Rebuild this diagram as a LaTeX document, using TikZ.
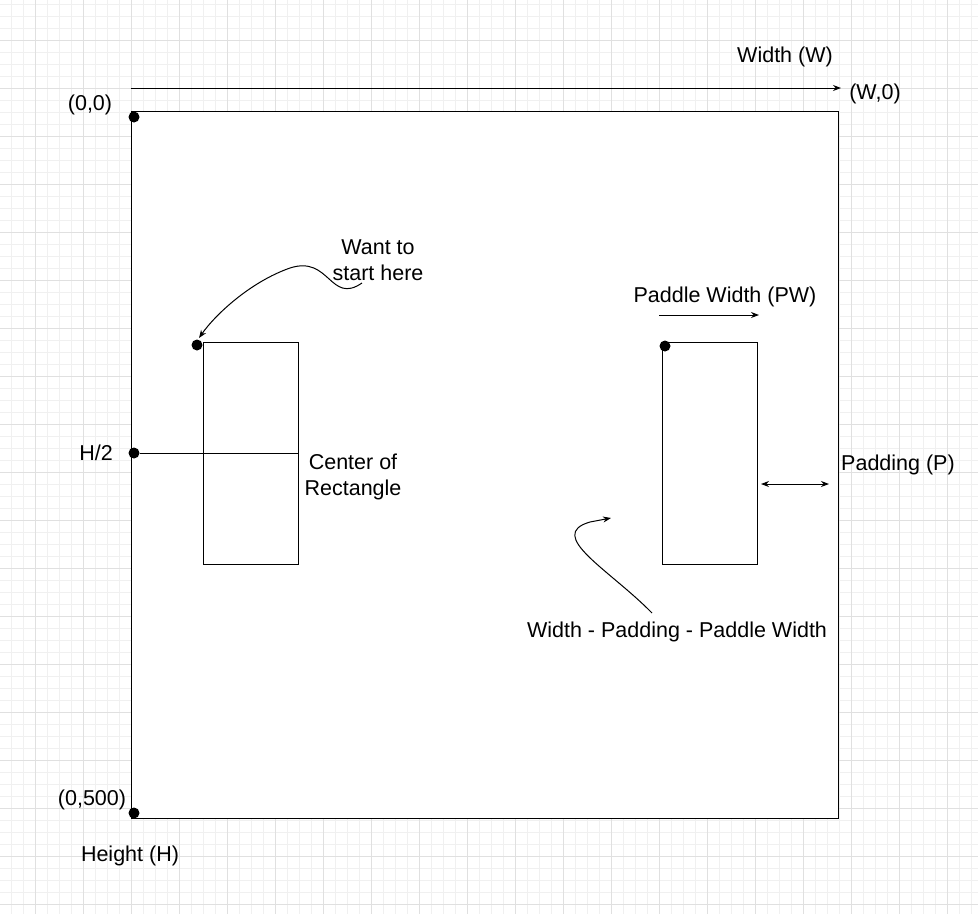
\documentclass[tikz,border=0pt]{standalone}
\usepackage{fontspec}
\setmainfont{Liberation Sans}
\usetikzlibrary{arrows.meta}
\begin{document}
\begin{tikzpicture}[x=1pt,y=-1pt,
  lbl/.style={font=\fontsize{21.5}{25.5}\selectfont,align=center,inner sep=0pt},
  dotn/.style={circle,fill=black,inner sep=0pt,minimum size=11pt},
  box/.style={draw,line width=1pt},
  arr/.style={-{Stealth[length=8pt,width=6pt]},line width=1pt}]
\useasboundingbox (0,0) rectangle (978,914);
\fill[white] (0,0) rectangle (978,914);
\foreach \x in {11,23,...,978} \draw[black!6,line width=0.6pt] (\x,0) -- (\x,914);
\foreach \y in {4,16,...,914} \draw[black!6,line width=0.6pt] (0,\y) -- (978,\y);
\foreach \x in {35,83,...,978} \draw[black!12,line width=0.8pt] (\x,0) -- (\x,914);
\foreach \y in {40,88,...,914} \draw[black!12,line width=0.8pt] (0,\y) -- (978,\y);
\node[box,fill=white,minimum width=707pt,minimum height=707pt,anchor=north west,inner sep=0pt] (main) at (131,111) {};
\coordinate (wa) at (131,88); \coordinate (wb) at (841,88);
\draw[arr] (wa) -- (wb);
\node[lbl] (wl) at (785,57) {Width (W)};
\node[lbl] (w0) at (875,94) {(W,0)};
\node[lbl] (o) at (90,105) {(0,0)};
\node[dotn] (d0) at (134,117) {};
\node[lbl] (h2) at (96,453) {H/2};
\node[dotn] (dh) at (134,453) {};
\node[lbl] (o5) at (92,800) {(0,500)};
\node[dotn] (d5) at (134,813) {};
\node[lbl] (hh) at (130,856) {Height (H)};
\node[box,minimum width=95pt,minimum height=222pt,anchor=north west,inner sep=0pt] (lr) at (203,342) {};
\coordinate (lrc) at (298,453);
\draw[line width=1pt] (dh) -- (lrc);
\node[dotn] (dl) at (197,345) {};
\node[lbl] (cr) at (353,477) {Center of\\Rectangle};
\node[lbl] (ws) at (378,260) {Want to\\start here};
\coordinate (ws0) at (362,283);
\draw[arr] (ws0) .. controls (330,305) and (330,255) .. (290,268) .. controls (250,282) and (215,315) .. (199,338);
\node[box,minimum width=95pt,minimum height=222pt,anchor=north west,inner sep=0pt] (rr) at (662,342) {};
\node[dotn] (dr) at (665,346) {};
\node[lbl] (pw) at (725,297) {Paddle Width (PW)};
\coordinate (pa) at (659,315); \coordinate (pb) at (759,315);
\draw[arr] (pa) -- (pb);
\coordinate (qa) at (761,484); \coordinate (qb) at (829,484);
\draw[arr,{Stealth[length=8pt,width=6pt]}-{Stealth[length=8pt,width=6pt]}] (qa) -- (qb);
\node[lbl] (pp) at (898,465) {Padding (P)};
\node[lbl] (wp) at (677,632) {Width - Padding - Paddle Width};
\coordinate (c0) at (652,613); \coordinate (c1) at (611,518);
\draw[arr] (c0) .. controls (610,570) and (545,535) .. (590,522) -- (c1);
\end{tikzpicture}
\end{document}
